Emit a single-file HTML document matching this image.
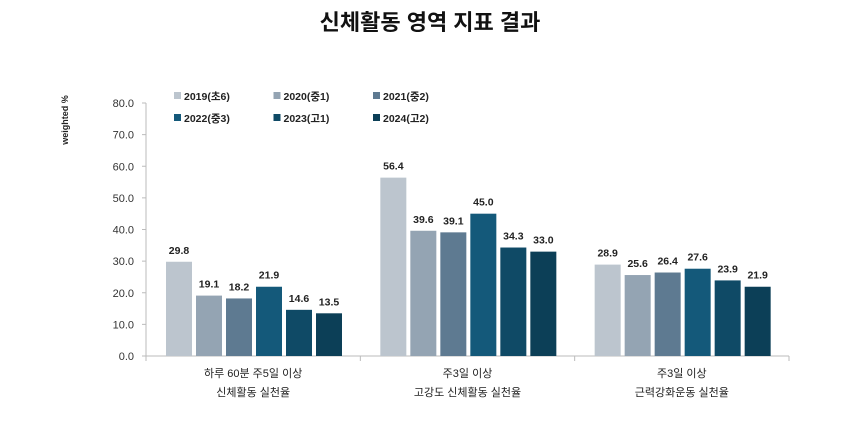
<!DOCTYPE html>
<html><head><meta charset="utf-8"><style>
body{margin:0;background:#fff;width:860px;height:436px;overflow:hidden;font-family:"Liberation Sans","Noto Sans CJK KR",sans-serif}
</style></head><body>
<svg width="860" height="436" xmlns="http://www.w3.org/2000/svg" font-family="Liberation Sans, Noto Sans CJK KR, sans-serif">
<text x="430" y="30" text-anchor="middle" font-size="22" font-weight="bold" fill="#111">신체활동 영역 지표 결과</text>
<text transform="translate(68,120) rotate(-90)" text-anchor="middle" font-size="9" font-weight="bold" fill="#222">weighted %</text>
<g id="axes"></g><g id="bars"></g><g id="legend"></g>
</svg>
<script>
const categories=[["하루 60분 주5일 이상","신체활동 실천율"],["주3일 이상","고강도 신체활동 실천율"],["주3일 이상","근력강화운동 실천율"]];
const seriesNames=["2019(초6)","2020(중1)","2021(중2)","2022(중3)","2023(고1)","2024(고2)"];
const s2019=[29.8,56.4,28.9];
const s2020=[19.1,39.6,25.6];
const s2021=[18.2,39.1,26.4];
const s2022=[21.9,45.0,27.6];
const s2023=[14.6,34.3,23.9];
const s2024=[13.5,33.0,21.9];
const yTicks=[0,10,20,30,40,50,60,70,80];
const series=[s2019,s2020,s2021,s2022,s2023,s2024];
const colors=["#bcc5ce","#94a4b3","#5e7a91","#14597a","#0f4a66","#0c3f57"];
const NS="http://www.w3.org/2000/svg";
const x0=146,x1=789,y0=356,yTop=103,yMax=80;
const y=v=>y0-(v/yMax)*(y0-yTop);
const gw=(x1-x0)/categories.length;
function mk(t,a,p){const e=document.createElementNS(NS,t);for(const k in a)e.setAttribute(k,a[k]);p.appendChild(e);return e;}
const ax=document.getElementById('axes'),bg=document.getElementById('bars'),lg=document.getElementById('legend');
let l=mk('line',{x1:x0,y1:yTop,x2:x0,y2:y0,stroke:'#bbb'},ax);


l=mk('line',{x1:x0,y1:y0,x2:x1,y2:y0,stroke:'#bbb'},ax);


yTicks.forEach(v=>{
 const t=mk('text',{x:x0-12,y:y(v)+4,'text-anchor':'end','font-size':11,fill:'#333'},ax);t.textContent=v.toFixed(1);
 
 
 mk('line',{x1:x0-4,y1:y(v),x2:x0,y2:y(v),stroke:'#bbb'},ax);
});
for(let i=0;i<=categories.length;i++){mk('line',{x1:x0+gw*i,y1:y0,x2:x0+gw*i,y2:y0+5,stroke:'#bbb'},ax);}
const bw=26,pitch=30;
categories.forEach((c,i)=>{
 const gx=x0+gw*i+20;
 series.forEach((s,j)=>{
  const bx=gx+j*pitch,v=s[i];
  const r=mk('rect',{x:bx,y:y(v),width:bw,height:y0-y(v),fill:colors[j]},bg);
  
  
  const t=mk('text',{x:bx+bw/2,y:y(v)-8,'text-anchor':'middle','font-size':10.5,'font-weight':'bold',fill:'#222'},bg);t.textContent=v.toFixed(1);
  
  
 });
 c.forEach((line,k)=>{
  const t=mk('text',{x:x0+gw*i+gw/2,y:377+k*19,'text-anchor':'middle','font-size':11,fill:'#222'},ax);t.textContent=line;
  
  
 });
});
seriesNames.forEach((n,j)=>{
 const lx=174+(j%3)*99.5,ly=j<3?97:119;
 const g=mk('g',{},lg);
 
 
 mk('rect',{x:lx,y:ly-5,width:7,height:7,fill:colors[j]},g);
 const t=mk('text',{x:lx+10,y:ly+3,'font-size':10.5,'font-weight':'bold',fill:'#222'},g);t.textContent=n;
});
</script>
</body></html>
